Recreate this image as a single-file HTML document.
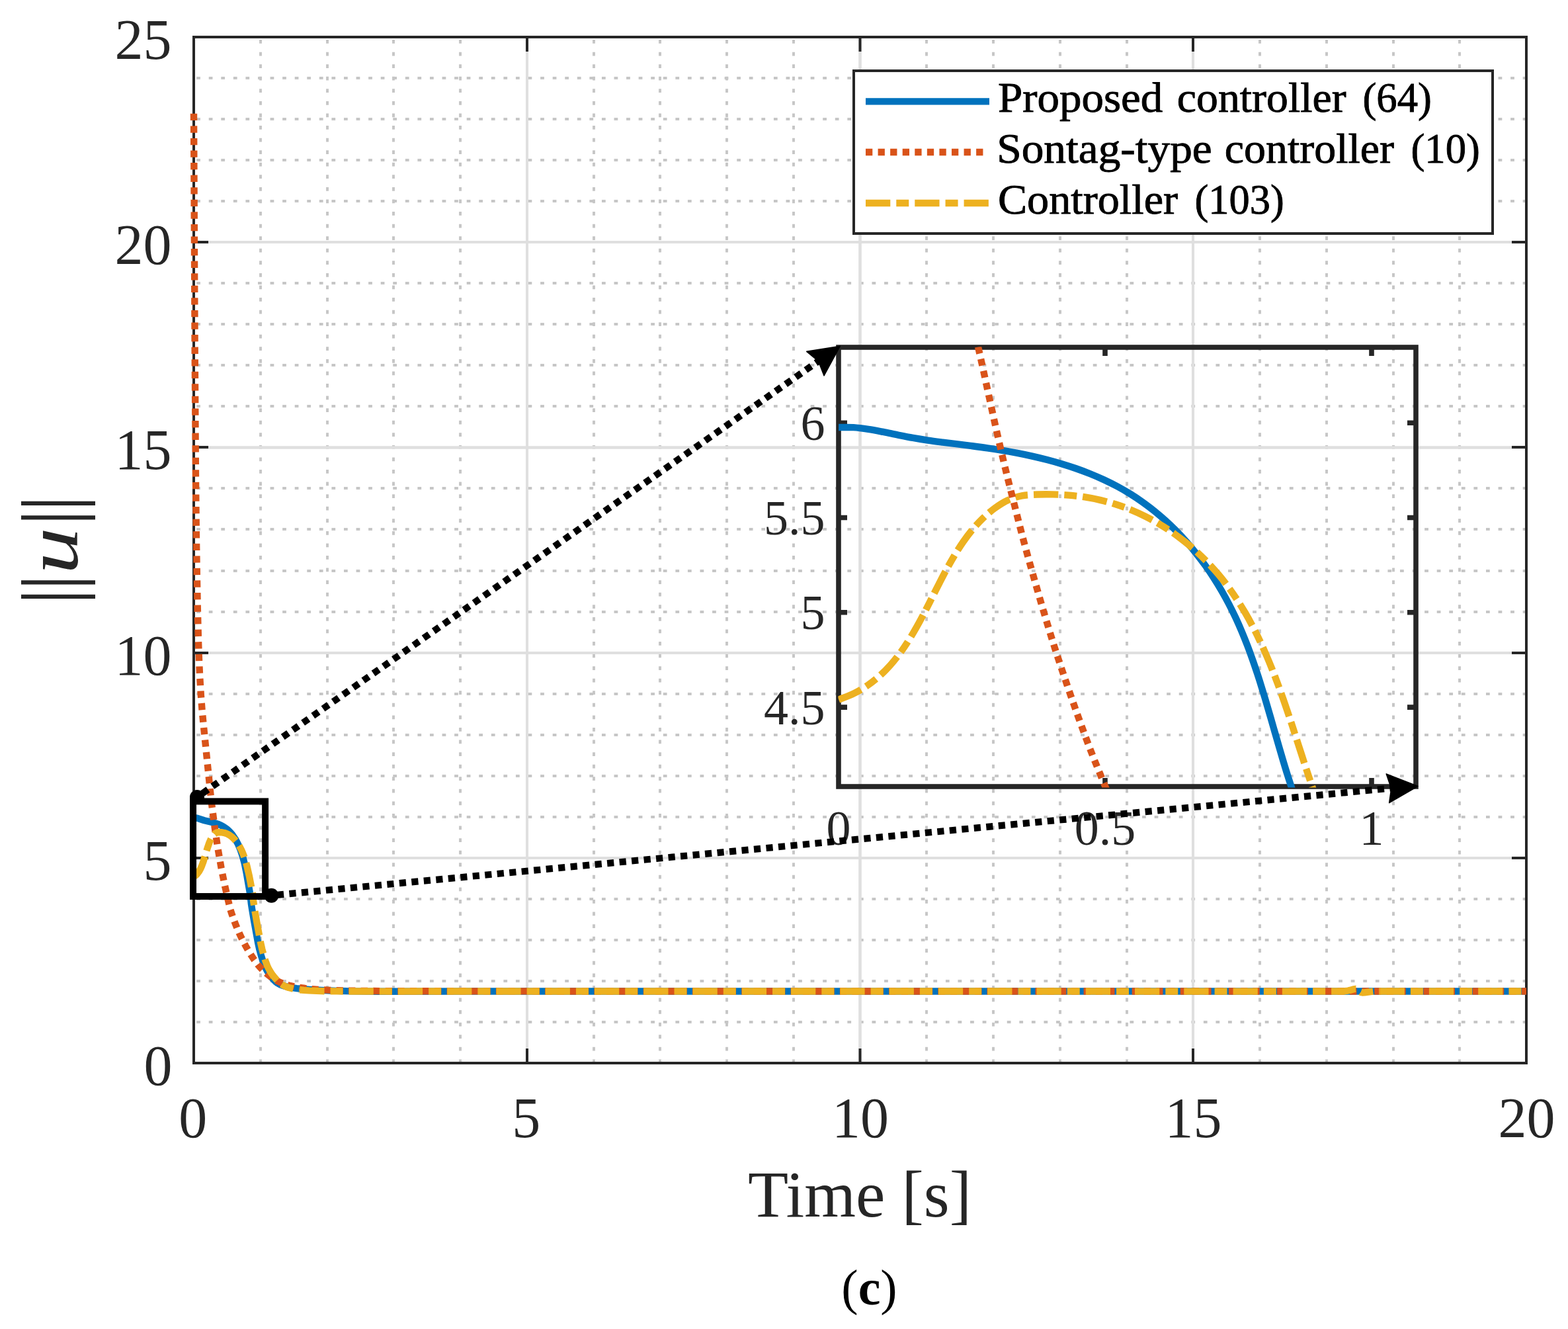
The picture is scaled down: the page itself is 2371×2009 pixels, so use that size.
<!DOCTYPE html>
<html lang="en"><head><meta charset="utf-8"><title>Control input norm ||u|| versus time</title>
<style>html,body{margin:0;padding:0;background:#fff}body{width:2371px;height:2009px;overflow:hidden}svg{display:block}text{font-family:"Liberation Serif","DejaVu Serif",serif}.t{font-size:86px;fill:#262626}.ti{font-size:74px;fill:#262626}.lg{font-size:64px;fill:#000}</style></head><body>
<svg width="2371" height="2009" viewBox="0 0 2371 2009">
<rect width="2371" height="2009" fill="#fff"/>
<defs><clipPath id="cm"><rect x="283" y="54" width="2025.3" height="1555"/></clipPath>
<clipPath id="ci"><rect x="1267.4" y="524.2" width="874.6" height="666.2"/></clipPath></defs>
<path d="M297.15 1545H2306M297.15 1483H2306M297.15 1421H2306M297.15 1359H2306M297.15 1235H2306M297.15 1173H2306M297.15 1111H2306M297.15 1049H2306M297.15 925H2306M297.15 863H2306M297.15 800H2306M297.15 738H2306M297.15 614H2306M297.15 552H2306M297.15 490H2306M297.15 428H2306M297.15 304H2306M297.15 242H2306M297.15 180H2306M297.15 118H2306" stroke="#c6c6c6" stroke-width="3.9" stroke-dasharray="5.75 12.82" fill="none"/>
<path d="M394 1607.15V58M495 1607.15V58M595 1607.15V58M696 1607.15V58M898 1607.15V58M998 1607.15V58M1099 1607.15V58M1200 1607.15V58M1401 1607.15V58M1502 1607.15V58M1603 1607.15V58M1704 1607.15V58M1905 1607.15V58M2006 1607.15V58M2107 1607.15V58M2207 1607.15V58" stroke="#c6c6c6" stroke-width="3.9" stroke-dasharray="5.75 12.82" fill="none"/>
<path d="M293 1297H2308M293 987H2308M293 366H2308M797 56V1607M1804 56V1607" stroke="#dfdfdf" stroke-width="4.1" fill="none"/>
<path d="M293 676.5H2308M1300.5 56V1607" stroke="#dfdfdf" stroke-width="4.6" fill="none"/>
<rect x="293" y="56" width="2015" height="1551" fill="none" stroke="#262626" stroke-width="4"/>
<path d="M293 1297h22M2308 1297h-22M293 987h22M2308 987h-22M293 676h22M2308 676h-22M293 366h22M2308 366h-22M797 1607v-22M797 56v22M1300.5 1607v-22M1300.5 56v22M1804 1607v-22M1804 56v22" stroke="#262626" stroke-width="4" fill="none"/>
<g clip-path="url(#cm)" fill="none" stroke-width="10.4" stroke-linejoin="round">
<path d="M293.01 1236.23L295.59 1236.25L297.82 1236.64L308.93 1240.22L323.5 1243.63L329.38 1245.57L334.83 1248L338.01 1249.77L341 1251.74L343.8 1253.91L346.41 1256.25L348.81 1258.76L351.22 1261.65L355.77 1268.33L359.94 1276.09L363.72 1284.99L366.94 1294.6L369.74 1305.3L372.62 1319.34L378.61 1353.78L379.88 1366.3L380.99 1373.57L384.09 1391.78L390.26 1425.71L392.15 1434.34L394.76 1443.94L397.3 1452.25L399.87 1459.19L401.88 1463.64L403.5 1466.72L406.25 1471.3L408.69 1474.88L411.36 1478.3L414.23 1481.48L417.29 1484.32L419.58 1486.09L421.76 1487.44L424.1 1488.59L429.98 1490.66L437.84 1492.44L448.52 1494.1L456.79 1495L468.43 1495.9L486.09 1496.92L504.05 1497.7L532.3 1498.41L573.33 1498.69L700 1498.5L2308 1498.5" stroke="#0072bd"/>
<path d="M293 171.8L294.71 538L296.02 726.75L296.78 799.25L297.69 861.39L298.76 918.36L300.06 969.62L301.05 998.93L302.19 1023.37L303.85 1050.85L305.61 1073.77L307.71 1095.77L319.4 1210.13L324.87 1252.2L329.1 1280.42L334.58 1312.21L340.17 1339.77L348.04 1374.03L350.93 1382.85L355.16 1394.6L358.41 1402.91L361.94 1411.09L365.86 1419.21L371.24 1429.46L376.02 1437.87L380.08 1444.45L384.36 1450.84L389.73 1458.05L393.23 1462.16L397.97 1467.05L403.03 1471.63L409.42 1476.68L414.49 1480.18L420.16 1483.38L425.14 1485.68L431.3 1487.97L436.5 1489.5L444.57 1491.37L452.77 1492.85L461.05 1494.01L471.02 1495.07L481.31 1495.9" stroke="#d95319" stroke-dasharray="10.3 8.27"/>
<path d="M481.31 1495.9L499.96 1496.91L521.31 1497.52L560 1498.01L600 1498.22L891.67 1498.5L1474.16 1498.5" stroke="#d95319" stroke-dasharray="10.3 8.27" stroke-dashoffset="9.93"/>
<path d="M1474.16 1498.5H2003.95" stroke="#d95319" stroke-dasharray="10.3 7.97"/>
<path d="M2003.95 1498.5H2308" stroke="#d95319" stroke-dasharray="10.3 8.27"/>
<path d="M293.02 1325.33L295.93 1323.27L298.6 1320.54L301.04 1317.13L303.36 1312.91L305.26 1308.57L307.23 1303.18L313.59 1282.16L316.52 1273.79L318.3 1269.71L320.19 1266.15L322.2 1263.12L324.41 1260.59L326.73 1259L327.9 1258.54L329.2 1258.31L334.52 1258.23L339.44 1259.03L343.29 1260.38L347 1262.38L350.65 1265.08L354.23 1268.5L357.2 1271.98L359.98 1275.87L362.57 1280.12L365.04 1284.88L367.21 1289.79L369.31 1295.31L371.3 1301.45L373.15 1308.04L376.69 1323.36L382.53 1353.55L383.16 1362.28L385.5 1377.5L388.29 1393.85L394.04 1424.87L396.26 1434.74L399.4 1446.34L401.66 1453.43L404.34 1460.32L405.88 1463.64L408.03 1467.63L410.29 1471.22L412.78 1474.71L415.48 1478.06L419.09 1482L422.9 1485.6L425.19 1487.42L427.67 1489.05L430.31 1490.49L433.06 1491.74L436.58 1493L443.78 1494.74L452.87 1496.16" stroke="#edb120" stroke-dasharray="37.28 9 19 9" stroke-dashoffset="1.5"/>
<path d="M452.87 1496.16L459.46 1496.83L467.37 1497.37L490.39 1498.18L510.82 1498.42L566.67 1498.58L1500 1498.5L1919.59 1498.67L2030.84 1498.48L2034.19 1498.2L2038.35 1497.51L2041.18 1496.93L2046.41 1495.42L2049.88 1494.92L2051.16 1495.08L2052.42 1495.69L2056.08 1498.82L2057.55 1499.82L2058.5 1500.2L2059.99 1500.47L2063.56 1500.36L2076.74 1498.56L2086.6 1498.5" stroke="#edb120" stroke-dasharray="37.28 9 19 9" stroke-dashoffset="73.83"/>
<path d="M2086.6 1498.5H2308" stroke="#edb120" stroke-dasharray="37.28 9 19 9"/>
</g>
<text class="t" x="260.5" y="1639.8" text-anchor="end">0</text>
<text class="t" x="259.6" y="1329.8" text-anchor="end">5</text>
<text class="t" x="259.6" y="1019.8" text-anchor="end">10</text>
<text class="t" x="259.6" y="708.8" text-anchor="end">15</text>
<text class="t" x="259.6" y="398.8" text-anchor="end">20</text>
<text class="t" x="259.6" y="88.8" text-anchor="end">25</text>
<text class="t" x="291.8" y="1719.2" text-anchor="middle">0</text>
<text class="t" x="795.8" y="1719.2" text-anchor="middle">5</text>
<text class="t" x="1301.1" y="1719.2" text-anchor="middle">10</text>
<text class="t" x="1804.6" y="1719.2" text-anchor="middle">15</text>
<text class="t" x="2308.6" y="1719.2" text-anchor="middle">20</text>
<text x="1300" y="1839" text-anchor="middle" style="font-size:100px;fill:#262626">Time [s]</text>
<text transform="translate(117.8,831.5) rotate(-90)" style="font-size:123.4px;fill:#262626" x="-82.75 -61.35">||</text>
<text transform="translate(117.2,831.5) rotate(-90) scale(1.27,1)" style="font-size:111.5px;font-style:italic;fill:#262626" x="-28.7" y="0">u</text>
<text transform="translate(117.8,831.5) rotate(-90)" style="font-size:123.4px;fill:#262626" x="36.75 58.15">||</text>
<text x="1314.5" y="1971.5" text-anchor="middle" style="font-size:76px;fill:#000">(<tspan font-weight="bold">c</tspan>)</text>
<rect x="1268" y="525" width="873" height="664" fill="none" stroke="#262626" stroke-width="7.6"/>
<path d="M1268 1069.1h13M2141 1069.1h-13M1268 925.8h13M2141 925.8h-13M1268 782.5h13M2141 782.5h-13M1268 639.2h13M2141 639.2h-13M1671 1189v-13M1671 525v13M2074 1189v-13M2074 525v13" stroke="#262626" stroke-width="7.6" fill="none"/>
<g clip-path="url(#ci)" fill="none" stroke-width="10.4" stroke-linejoin="round">
<path d="M1268.09 645.97C1275.6 646.04 1283.13 645.7 1290.6 646.18C1298.13 646.66 1305.63 647.71 1313.09 648.84C1320.62 649.97 1328.09 651.5 1335.56 652.96C1343.07 654.42 1350.53 656.09 1358.03 657.58C1365.51 659.08 1372.99 660.59 1380.49 661.93C1387.97 663.26 1395.46 664.47 1402.97 665.59C1410.45 666.71 1417.95 667.66 1425.46 668.63C1432.95 669.6 1440.46 670.47 1447.97 671.41C1455.48 672.34 1463 673.25 1470.51 674.23C1478.04 675.22 1485.57 676.21 1493.09 677.31C1500.64 678.41 1508.19 679.56 1515.72 680.81C1523.28 682.08 1530.83 683.42 1538.35 684.88C1545.89 686.34 1553.41 687.89 1560.9 689.57C1568.39 691.26 1575.85 693.04 1583.28 694.98C1590.69 696.91 1598.07 698.96 1605.4 701.17C1612.7 703.37 1619.96 705.71 1627.16 708.22C1634.33 710.72 1641.45 713.37 1648.49 716.2C1655.49 719.03 1662.44 722.01 1669.28 725.2C1676.09 728.37 1682.84 731.72 1689.45 735.28C1696.05 738.83 1702.56 742.58 1708.92 746.53C1715.27 750.47 1721.51 754.63 1727.61 758.97C1733.7 763.3 1739.67 767.84 1745.5 772.53C1751.33 777.24 1757.03 782.13 1762.58 787.16C1768.14 792.21 1773.56 797.42 1778.83 802.77C1784.12 808.14 1789.26 813.66 1794.25 819.3C1799.25 824.95 1804.1 830.75 1808.81 836.66C1813.52 842.59 1818.09 848.64 1822.5 854.79C1826.92 860.96 1831.19 867.25 1835.31 873.62C1839.44 880.01 1843.41 886.5 1847.23 893.08C1851.05 899.65 1854.72 906.33 1858.23 913.08C1861.75 919.83 1865.1 926.67 1868.33 933.56C1871.55 940.46 1874.63 947.44 1877.59 954.46C1880.56 961.49 1883.38 968.58 1886.12 975.7C1888.86 982.84 1891.48 990.03 1894.02 997.24C1896.57 1004.46 1899.01 1011.72 1901.4 1018.99C1903.79 1026.28 1906.1 1033.59 1908.36 1040.91C1910.63 1048.23 1912.83 1055.58 1915.01 1062.93C1917.18 1070.27 1919.31 1077.62 1921.44 1084.97C1923.56 1092.31 1925.65 1099.65 1927.75 1106.99C1929.86 1114.3 1931.94 1121.62 1934.07 1128.92C1936.18 1136.18 1938.3 1143.44 1940.48 1150.69C1942.64 1157.88 1944.82 1165.07 1947.09 1172.23C1949.33 1179.34 1951.69 1186.41 1954 1193.5" stroke="#0072bd"/>
<path d="M1268.2 1057.6C1275.94 1054.43 1283.93 1051.78 1291.41 1048.09C1298.51 1044.59 1305.4 1040.49 1311.95 1036.03C1318.32 1031.69 1324.4 1026.82 1330.16 1021.69C1335.87 1016.61 1341.26 1011.09 1346.37 1005.39C1351.5 999.65 1356.31 993.58 1360.89 987.4C1365.54 981.13 1369.88 974.61 1374.07 968.02C1378.33 961.33 1382.32 954.46 1386.23 947.55C1390.2 940.54 1393.96 933.41 1397.7 926.28C1401.48 919.06 1405.12 911.77 1408.8 904.5C1412.51 897.19 1416.13 889.85 1419.87 882.56C1423.61 875.3 1427.33 868.02 1431.24 860.84C1435.11 853.73 1439.04 846.64 1443.23 839.71C1447.35 832.87 1451.61 826.08 1456.17 819.52C1460.66 813.07 1465.35 806.7 1470.39 800.67C1475.37 794.7 1480.62 788.89 1486.22 783.51C1491.81 778.13 1497.71 772.95 1503.99 768.41C1510.25 763.88 1516.84 759.5 1523.83 756.29C1530.64 753.16 1538.05 750.83 1545.41 749.38C1552.87 747.9 1560.65 747.84 1568.29 747.51C1576.2 747.16 1584.14 747.17 1592.06 747.36C1600.14 747.54 1608.23 747.93 1616.29 748.62C1624.4 749.3 1632.51 750.22 1640.55 751.47C1648.55 752.71 1656.54 754.23 1664.42 756.08C1672.24 757.92 1680 760.08 1687.64 762.53C1695.23 764.96 1702.75 767.71 1710.13 770.72C1717.48 773.72 1724.73 777.01 1731.83 780.55C1738.92 784.08 1745.88 787.89 1752.69 791.93C1759.49 795.96 1766.16 800.25 1772.66 804.75C1779.15 809.24 1785.5 813.98 1791.67 818.91C1797.84 823.83 1803.84 828.98 1809.67 834.31C1815.49 839.63 1821.14 845.16 1826.6 850.85C1832.06 856.54 1837.34 862.42 1842.41 868.44C1847.49 874.46 1852.36 880.65 1857.05 886.97C1861.74 893.29 1866.22 899.77 1870.53 906.35C1874.85 912.94 1878.98 919.68 1882.95 926.49C1886.94 933.32 1890.75 940.27 1894.42 947.28C1898.1 954.33 1901.62 961.47 1905.02 968.65C1908.44 975.87 1911.7 983.17 1914.87 990.5C1918.05 997.86 1921.09 1005.28 1924.05 1012.73C1927.02 1020.2 1929.88 1027.72 1932.68 1035.26C1935.47 1042.81 1938.18 1050.4 1940.84 1057.99C1943.5 1065.59 1946.08 1073.21 1948.64 1080.84C1951.19 1088.44 1953.69 1096.07 1956.18 1103.7C1958.66 1111.29 1961.1 1118.89 1963.55 1126.49C1965.99 1134.03 1968.41 1141.58 1970.87 1149.11C1973.3 1156.57 1975.73 1164.04 1978.22 1171.48C1980.67 1178.83 1983.21 1186.16 1985.7 1193.5" stroke="#edb120" stroke-dasharray="37.28 9 19 9" stroke-dashoffset="0.3"/>
<path d="M1479.05 524.45C1480.8 532.23 1482.59 540.01 1484.3 547.8C1488.27 565.86 1492.15 583.94 1496.1 602C1500.08 620.17 1503.98 638.36 1508.1 656.5C1512.22 674.63 1516.43 692.73 1520.8 710.8C1525.16 728.8 1529.75 746.75 1534.3 764.7C1538.88 782.75 1543.39 800.81 1548.2 818.8C1552.99 836.75 1558.03 854.63 1563.1 872.5C1568.17 890.36 1573.3 908.21 1578.6 926C1583.9 943.81 1589.26 961.6 1594.9 979.3C1600.56 997.03 1606.49 1014.68 1612.5 1032.3C1618.49 1049.88 1624.61 1067.42 1630.9 1084.9C1637.22 1102.46 1643.61 1120 1650.35 1137.4C1656.81 1154.07 1663.78 1170.53 1670.5 1187.1C1670.5 1187.1 1670.5 1187.1 1670.5 1187.1C1671.4 1189.23 1672.3 1191.37 1673.2 1193.5" stroke="#d95319" stroke-dasharray="10.3 8.27"/>
</g>
<text class="ti" x="1247.5" y="1094.7" text-anchor="end">4.5</text>
<text class="ti" x="1247.5" y="951.4" text-anchor="end">5</text>
<text class="ti" x="1247.5" y="808.1" text-anchor="end">5.5</text>
<text class="ti" x="1247.5" y="664.8" text-anchor="end">6</text>
<text class="ti" x="1268" y="1277" text-anchor="middle">0</text>
<text class="ti" x="1671" y="1277" text-anchor="middle">0.5</text>
<text class="ti" x="2074" y="1277" text-anchor="middle">1</text>
<rect x="292" y="1211.4" width="109.1" height="143.65" fill="none" stroke="#000" stroke-width="10"/>
<circle cx="298" cy="1205" r="11" fill="#000"/>
<circle cx="410.4" cy="1353.7" r="11" fill="#000"/>
<path d="M298 1205L1238.5 545.3" stroke="#000" stroke-width="10.2" stroke-dasharray="10.2 8.373" stroke-dashoffset="8.7" fill="none"/>
<path d="M410.4 1353.7L2105 1191.35" stroke="#000" stroke-width="10.2" stroke-dasharray="10.2 8.373" stroke-dashoffset="10" fill="none"/>
<path d="M1270.3 523.2L1219.8 531.4L1237.6 546.2L1246 567.8Z" fill="#000" stroke="#000" stroke-width="1.6" stroke-linejoin="round"/>
<path d="M2144 1188.5L2096.3 1169.9L2103.8 1191.9L2100.7 1213.6Z" fill="#000" stroke="#000" stroke-width="1.6" stroke-linejoin="round"/>
<rect x="1291" y="107" width="966" height="246" fill="#fff" stroke="#262626" stroke-width="4"/>
<path d="M1309 153.4H1496" stroke="#0072bd" stroke-width="10.4" fill="none"/>
<path d="M1309 230H1490" stroke="#d95319" stroke-width="10.4" stroke-dasharray="10.3 8.27" fill="none"/>
<path d="M1309 307H1496" stroke="#edb120" stroke-width="10.4" stroke-dasharray="37.28 9 19 9" fill="none"/>
<text class="lg" y="169.3" stroke="#000" stroke-width="0.9"><tspan x="1509.07" textLength="249.15" lengthAdjust="spacingAndGlyphs">Proposed</tspan> <tspan x="1779.89" textLength="255.68" lengthAdjust="spacingAndGlyphs">controller</tspan> <tspan x="2060.45" textLength="104.41" lengthAdjust="spacingAndGlyphs">(64)</tspan></text>
<text class="lg" y="246" stroke="#000" stroke-width="0.9"><tspan x="1507.19" textLength="325.54" lengthAdjust="spacingAndGlyphs">Sontag-type</tspan> <tspan x="1851.89" textLength="256.09" lengthAdjust="spacingAndGlyphs">controller</tspan> <tspan x="2133.45" textLength="104.41" lengthAdjust="spacingAndGlyphs">(10)</tspan></text>
<text class="lg" y="322.6" stroke="#000" stroke-width="0.9"><tspan x="1508.98" textLength="272.1" lengthAdjust="spacingAndGlyphs">Controller</tspan> <tspan x="1806.56" textLength="135.19" lengthAdjust="spacingAndGlyphs">(103)</tspan></text>
</svg></body></html>
